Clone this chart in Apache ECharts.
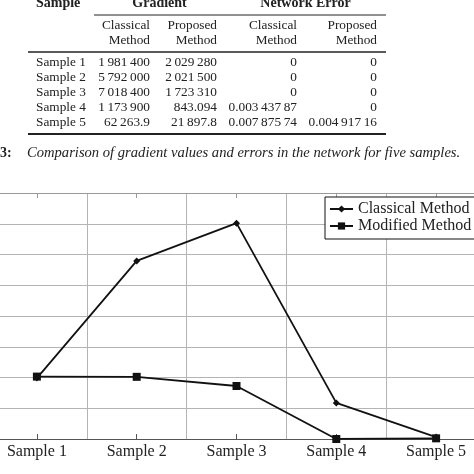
<!DOCTYPE html>
<html>
<head>
<meta charset="utf-8">
<script src="https://cdn.jsdelivr.net/npm/echarts@6/dist/echarts.min.js"></script>
<style>
  html, body { margin: 0; padding: 0; background: #fff; overflow: hidden; }
  #wrap { position: relative; width: 474px; height: 474px; overflow: hidden; }
  /* the plot box runs past both edges of the picture, so the canvas is offset */
  #main { position: absolute; left: -13px; top: 0; width: 499px; height: 474px; }
</style>
</head>
<body>
<div id="wrap"><div id="main"></div></div>
<script>
  // data (the chart plots the gradient columns)
  const samples = ['Sample 1', 'Sample 2', 'Sample 3', 'Sample 4', 'Sample 5']
  const gradClassical = [1981400, 5792000, 7018400, 1173900, 62263.9]
  const gradProposed = [2029280, 2021500, 1723310, 843.094, 21897.8]
  const errClassical = [0, 0, 0, 0.00343787, 0.00787574]
  const errProposed = [0, 0, 0, 0, 0.00491716]
  const seriesNames = ['Classical Method', 'Modified Method']
  const yTicks = [0, 8000000, 1000000] // min, max, interval

  const serif = 'Liberation Serif, Times New Roman, serif'
  const ink = '#222'
  const thin = '\u2009'
  const dx = 13 // canvas offset

  // siunitx-like grouping with thin spaces
  function fmt (v) {
    let parts = String(v).split('.')
    let ip = parts[0].replace(/\B(?=(\d{3})+(?!\d))/g, thin)
    if (parts.length < 2) return ip
    let dp = parts[1].replace(/(\d{3})(?=\d)/g, '$1' + thin)
    return ip + '.' + dp
  }

  function txt (s, x, y, opt) {
    opt = opt || {}
    return {
      type: 'text',
      style: {
        text: s, x: x + dx, y: y,
        font: (opt.style || '') + ' ' + (opt.weight || 'normal') + ' ' + (opt.size || 13.3) + 'px ' + serif,
        fill: ink,
        textAlign: opt.align || 'left',
        textVerticalAlign: 'middle'
      }
    }
  }
  function rule (x1, x2, y, w) {
    return { type: 'line', shape: { x1: x1 + dx, y1: y, x2: x2 + dx, y2: y }, style: { stroke: ink, lineWidth: w } }
  }

  let g = []
  // header
  g.push(txt('Sample', 36, 3, { weight: 'bold', size: 14 }))
  g.push(txt('Gradient', 159.5, 3, { weight: 'bold', size: 14, align: 'center' }))
  g.push(txt('Network Error', 305.5, 3, { weight: 'bold', size: 14, align: 'center' }))
  g.push(rule(94, 386, 15, 1))
  let colX = [150, 217, 297, 377]
  let sub = ['Classical', 'Proposed', 'Classical', 'Proposed']
  colX.forEach(function (x, i) {
    g.push(txt(sub[i], x, 26, { align: 'right' }))
    g.push(txt('Method', x, 41, { align: 'right' }))
  })
  g.push(rule(28, 386, 52, 1.3))
  samples.forEach(function (s, i) {
    let y = 63 + i * 15
    g.push(txt(s, 36, y))
    g.push(txt(fmt(gradClassical[i]), colX[0], y, { align: 'right' }))
    g.push(txt(fmt(gradProposed[i]), colX[1], y, { align: 'right' }))
    g.push(txt(fmt(errClassical[i]), colX[2], y, { align: 'right' }))
    g.push(txt(fmt(errProposed[i]), colX[3], y, { align: 'right' }))
  })
  g.push(rule(28, 386, 134, 2))
  // caption
  g.push(txt('3:', 0, 153, { weight: 'bold', size: 14 }))
  g.push(txt('Comparison of gradient values and errors in the network for five samples.', 27, 153, { style: 'italic', size: 14.6 }))

  let chart = echarts.init(document.getElementById('main'))
  chart.setOption({
    animation: false,
    grid: { left: 0, top: 193, right: 0, bottom: 35 },
    legend: {
      data: seriesNames,
      orient: 'vertical',
      left: 325 + dx,
      top: 197,
      padding: [4, 12, 5, 4],
      itemGap: 1,
      itemWidth: 23,
      itemHeight: 9,
      backgroundColor: '#fff',
      borderColor: '#111',
      borderWidth: 1,
      borderRadius: 0,
      textStyle: { fontFamily: serif, fontSize: 16, color: ink }
    },
    xAxis: [{
      type: 'category',
      data: samples,
      boundaryGap: true,
      axisLine: { lineStyle: { color: '#555', width: 1 } },
      axisTick: { show: true, inside: true, alignWithLabel: true, length: 5, lineStyle: { color: '#555' } },
      axisLabel: { fontFamily: serif, fontSize: 16, color: ink, margin: 5 },
      splitLine: { show: true, lineStyle: { color: '#b4b4b4', width: 1 } }
    }, {
      type: 'category',
      data: samples,
      position: 'top',
      boundaryGap: true,
      axisLine: { lineStyle: { color: '#999', width: 1 } },
      axisTick: { show: true, inside: true, alignWithLabel: true, length: 5, lineStyle: { color: '#999' } },
      axisLabel: { show: false },
      splitLine: { show: false }
    }],
    yAxis: {
      type: 'value',
      min: yTicks[0],
      max: yTicks[1],
      interval: yTicks[2],
      axisLine: { show: false },
      axisTick: { show: false },
      axisLabel: { show: false },
      splitLine: { lineStyle: { color: '#b4b4b4', width: 1 } }
    },
    series: [{
      name: seriesNames[0],
      type: 'line',
      data: gradClassical,
      symbol: 'diamond',
      symbolSize: 7,
      itemStyle: { color: '#111' },
      lineStyle: { color: '#111', width: 1.8 }
    }, {
      name: seriesNames[1],
      type: 'line',
      data: gradProposed,
      symbol: 'rect',
      symbolSize: 8,
      itemStyle: { color: '#111' },
      lineStyle: { color: '#111', width: 1.8 }
    }],
    graphic: g
  })
</script>
</body>
</html>
